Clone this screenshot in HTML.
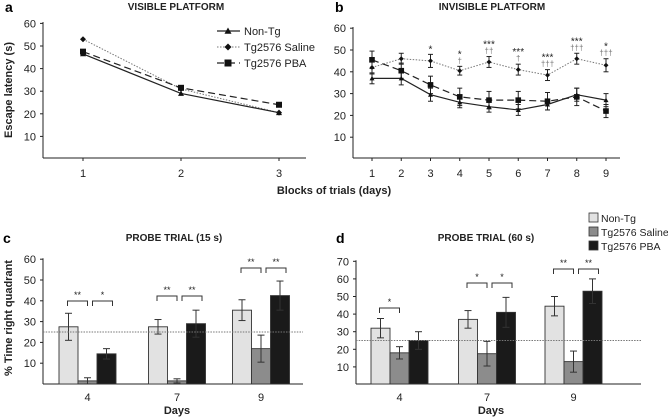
<!DOCTYPE html>
<html><head><meta charset="utf-8"><style>
html,body{margin:0;padding:0;background:#fff;width:668px;height:418px;overflow:hidden}
svg{display:block;font-family:"Liberation Sans",Arial,sans-serif}
</style></head><body>
<svg id="s" width="668" height="418" viewBox="0 0 668 418"></svg>
<script>
// ---- Panel a data ----
const aDays = [1, 2, 3];
const aNonTg = [46.5, 29, 20.5];
const aSaline = [53, 31, 20.5];
const aPBA = [47.5, 31.5, 24];
// ---- Panel b data ----
const bDays = [1, 2, 3, 4, 5, 6, 7, 8, 9];
const bNonTg = [37, 37, 29.5, 26, 24, 22.5, 25, 29.5, 27];
const bNonTgErr = [2.5, 3, 3, 2.5, 2.5, 2.5, 2.5, 3, 3];
const bSaline = [42, 46, 45, 40.5, 44.5, 41, 38.5, 46, 43];
const bSalineErr = [3, 2.5, 3, 2, 2.5, 2.5, 2.5, 2.5, 3];
const bPBA = [45.5, 40.5, 34, 28.5, 27, 27, 26.5, 28.5, 22];
const bPBAErr = [4, 3.5, 4, 4, 4, 4, 4, 4, 3];
const bStars = ["", "", "*", "*", "***", "***", "***", "***", "*"];
const bDaggers = ["", "", "", "†", "††", "†", "†††", "†††", "†††"];
// ---- Panel c data ----
const cDays = ["4", "7", "9"];
const cNonTg = [27.5, 27.5, 35.5];
const cNonTgErr = [6.5, 3.5, 5];
const cSaline = [1.5, 1.5, 17];
const cSalineErr = [1.5, 1, 6.5];
const cPBA = [14.5, 29, 42.5];
const cPBAErr = [2.5, 6.5, 7];
const cSig1 = ["**", "**", "**"];
const cSig2 = ["*", "**", "**"];
// ---- Panel d data ----
const dDays = ["4", "7", "9"];
const dNonTg = [32, 37, 44.5];
const dNonTgErr = [5.5, 5, 5.5];
const dSaline = [18, 17.5, 13];
const dSalineErr = [3.5, 7, 6];
const dPBA = [25, 41, 53];
const dPBAErr = [5, 8.5, 7];
const dSig1 = ["*", "*", "**"];
const dSig2 = ["", "*", "**"];
const chance = 25;

const S = document.getElementById('s');
const NS = 'http://www.w3.org/2000/svg';
function el(tag, at, name, parent) {
  const e = document.createElementNS(NS, tag);
  for (const k in at) e.setAttribute(k, at[k]);
  
  
  (parent || S).appendChild(e);
  return e;
}
function txt(x, y, s, name, o) {
  o = o || {};
  const t = el('text', {x: x, y: y, 'font-size': o.fs || 11, 'text-anchor': o.a || 'middle',
    'font-weight': o.b ? 'bold' : 'normal', fill: o.fill || '#222'}, name);
  if (o.rot) t.setAttribute('transform', 'rotate(-90 ' + x + ' ' + y + ')');
  t.textContent = s;
  return t;
}
function line(x1, y1, x2, y2, name, o) {
  o = o || {};
  const l = el('line', {x1: x1, y1: y1, x2: x2, y2: y2, stroke: o.c || '#222', 'stroke-width': o.w || 1}, name);
  if (o.d) l.setAttribute('stroke-dasharray', o.d);
  return l;
}
function marker(type, x, y, s, name) {
  if (type === 'tri') el('polygon', {points: `${x},${y - s} ${x - s},${y + s * 0.8} ${x + s},${y + s * 0.8}`, fill: '#111'}, name);
  else if (type === 'dia') el('polygon', {points: `${x},${y - s} ${x + s},${y} ${x},${y + s} ${x - s},${y}`, fill: '#111'}, name);
  else el('rect', {x: x - s, y: y - s, width: 2 * s, height: 2 * s, fill: '#111'}, name);
}

// ================= Panel a =================
const aX = d => 83 + (d - 1) * 98;
const aY = v => 159 - v * 2.26;
txt(5, 12, 'a', 'panel-a-letter', {b: 1, fs: 14, a: 'start', fill: '#000'});
txt(176, 10, 'VISIBLE PLATFORM', 'panel-a-title', {b: 1, fs: 10});
line(43, 22, 43, 158, 'panel-a-y-axis');
line(43, 158, 306, 158, 'panel-a-x-axis');
[10, 20, 30, 40, 50, 60].forEach(v => {
  line(40, aY(v), 43, aY(v), 'panel-a-y-tick');
  txt(36, aY(v) + 4, v, 'panel-a-y-tick-label', {a: 'end'});
});
aDays.forEach(d => {
  line(aX(d), 158, aX(d), 161, 'panel-a-x-tick');
  txt(aX(d), 177, d, 'panel-a-x-tick-label');
});
txt(12, 90, 'Escape latency (s)', 'panel-a-y-axis-title', {b: 1, rot: 1});
txt(334, 194, 'Blocks of trials (days)', 'x-axis-title-ab', {b: 1});
function series(days, vals, X, Y, style, mtype, ms, name) {
  const pts = days.map((d, i) => X(d) + ',' + Y(vals[i])).join(' ');
  const p = el('polyline', {points: pts, fill: 'none', stroke: style.c, 'stroke-width': style.w}, name + '-line');
  if (style.d) p.setAttribute('stroke-dasharray', style.d);
  days.forEach((d, i) => marker(mtype, X(d), Y(vals[i]), ms, name + '-point'));
}
const stNon = {c: '#222', w: 1.2};
const stSal = {c: '#777', w: 1, d: '1.5,1.5'};
const stPBA = {c: '#222', w: 1.2, d: '7,4'};
series(aDays, aSaline, aX, aY, stSal, 'dia', 3, 'a-saline');
series(aDays, aPBA, aX, aY, stPBA, 'sq', 3, 'a-pba');
series(aDays, aNonTg, aX, aY, stNon, 'tri', 3, 'a-nontg');
// legend a
[['Non-Tg', stNon, 'tri', 31], ['Tg2576 Saline', stSal, 'dia', 47], ['Tg2576 PBA', stPBA, 'sq', 63]].forEach(r => {
  line(217, r[3], 240, r[3], 'legend-a-line', {c: r[1].c, w: r[1].w, d: r[1].d});
  marker(r[2], 228, r[3], 3.5, 'legend-a-marker');
  txt(244, r[3] + 4, r[0], 'legend-a-label', {a: 'start', fs: 11});
});

// ================= Panel b =================
const bX = d => 372 + (d - 1) * 29.25;
const bY = v => 159 - v * 2.18;
txt(335, 12, 'b', 'panel-b-letter', {b: 1, fs: 14, a: 'start', fill: '#000'});
txt(492, 10, 'INVISIBLE PLATFORM', 'panel-b-title', {b: 1, fs: 10});
line(353, 27, 353, 158, 'panel-b-y-axis');
line(353, 158, 620, 158, 'panel-b-x-axis');
[10, 20, 30, 40, 50, 60].forEach(v => {
  line(350, bY(v), 353, bY(v), 'panel-b-y-tick');
  txt(346, bY(v) + 4, v, 'panel-b-y-tick-label', {a: 'end'});
});
bDays.forEach(d => {
  line(bX(d), 158, bX(d), 161, 'panel-b-x-tick');
  txt(bX(d), 177, d, 'panel-b-x-tick-label');
});
function errs(days, vals, e, X, Y, name) {
  days.forEach((d, i) => {
    const x = X(d), y1 = Y(vals[i] + e[i]), y2 = Y(vals[i] - e[i]);
    line(x, y1, x, y2, name, {w: 1});
    line(x - 2.5, y1, x + 2.5, y1, name + '-cap');
    line(x - 2.5, y2, x + 2.5, y2, name + '-cap');
  });
}
errs(bDays, bSaline, bSalineErr, bX, bY, 'b-saline-err');
errs(bDays, bPBA, bPBAErr, bX, bY, 'b-pba-err');
errs(bDays, bNonTg, bNonTgErr, bX, bY, 'b-nontg-err');
series(bDays, bSaline, bX, bY, stSal, 'dia', 2.5, 'b-saline');
series(bDays, bPBA, bX, bY, stPBA, 'sq', 2.8, 'b-pba');
series(bDays, bNonTg, bX, bY, stNon, 'tri', 2.5, 'b-nontg');
bDays.forEach((d, i) => {
  const top = bY(bSaline[i] + bSalineErr[i]);
  const hasD = bDaggers[i] !== '';
  if (hasD) txt(bX(d), top - 3, bDaggers[i], 'b-dagger', {fs: 8, fill: '#777'});
  if (bStars[i]) txt(bX(d), hasD ? top - 9 : top - 2, bStars[i], 'b-star', {fs: 10});
});

// ================= Bar panels =================
const fills = ['#e2e2e2', '#8c8c8c', '#1a1a1a'];
function barPanel(p, cats, series3, errs3, sig1, sig2, X0, X1, Yf, centers, bw, ymax, step, brY) {
  line(X0, Yf(ymax) - 1, X0, 384, p + '-y-axis');
  line(X0, 384, X1, 384, p + '-x-axis');
  for (let v = step; v <= ymax; v += step) {
    line(X0 - 3, Yf(v), X0, Yf(v), p + '-y-tick');
    txt(X0 - 7, Yf(v) + 4, v, p + '-y-tick-label', {a: 'end'});
  }
  cats.forEach((c, g) => {
    txt(centers[g], 401, c, p + '-x-tick-label');
    series3.forEach((sv, k) => {
      const x = centers[g] + (k - 1.5) * bw;
      const y = Yf(sv[g]);
      el('rect', {x: x, y: y, width: bw, height: 384 - y, fill: fills[k], stroke: '#333', 'stroke-width': 0.9}, p + '-bar');
      const cx = x + bw / 2, e = errs3[k][g];
      const y1 = Yf(sv[g] + e), y2 = Yf(sv[g] - e);
      line(cx, y1, cx, y2, p + '-error-bar', {c: '#333'});
      line(cx - 3.5, y1, cx + 3.5, y1, p + '-error-cap', {c: '#333'});
      line(cx - 3.5, y2, cx + 3.5, y2, p + '-error-cap', {c: '#333'});
    });
    [sig1[g], sig2[g]].forEach((s, j) => {
      if (!s) return;
      const x1 = centers[g] - bw + (j ? bw + 6 : 0) - 1, x2 = x1 + bw + 1;
      const y = brY[g];
      el('polyline', {points: `${x1},${y + 5} ${x1},${y} ${x2},${y} ${x2},${y + 5}`, fill: 'none', stroke: '#333', 'stroke-width': 1}, p + '-sig-bracket');
      txt((x1 + x2) / 2, y - 3, s, p + '-sig-star', {fs: 9});
    });
  });
  line(X0, Yf(chance), X1, Yf(chance), p + '-chance-line', {c: '#777', d: '1.5,1.2'});
}
// c
const cY = v => 384 - v * 2.08;
txt(3, 243, 'c', 'panel-c-letter', {b: 1, fs: 14, a: 'start', fill: '#000'});
txt(174, 241, 'PROBE TRIAL (15 s)', 'panel-c-title', {b: 1, fs: 10});
txt(12, 318, '% Time right quadrant', 'panel-c-y-axis-title', {b: 1, rot: 1});
txt(177, 414, 'Days', 'panel-c-x-axis-title', {b: 1});
barPanel('c', cDays, [cNonTg, cSaline, cPBA], [cNonTgErr, cSalineErr, cPBAErr], cSig1, cSig2,
  43, 303, cY, [87.5, 177, 261], 19, 60, 10, [301, 296, 268]);
// d
const dY = v => 384.5 - v * 1.76;
txt(336, 243, 'd', 'panel-d-letter', {b: 1, fs: 14, a: 'start', fill: '#000'});
txt(486, 241, 'PROBE TRIAL (60 s)', 'panel-d-title', {b: 1, fs: 10});
txt(491, 414, 'Days', 'panel-d-x-axis-title', {b: 1});
barPanel('d', dDays, [dNonTg, dSaline, dPBA], [dNonTgErr, dSalineErr, dPBAErr], dSig1, dSig2,
  356, 641, dY, [399.5, 487, 573.5], 19, 70, 10, [308, 283, 269]);
// legend cd
[['Non-Tg', fills[0]], ['Tg2576 Saline', fills[1]], ['Tg2576 PBA', fills[2]]].forEach((r, i) => {
  const y = 217 + i * 14;
  el('rect', {x: 589, y: y - 4, width: 9, height: 9, fill: r[1], stroke: '#333', 'stroke-width': 0.8}, 'legend-cd-swatch');
  txt(601, y + 5, r[0], 'legend-cd-label', {a: 'start', fs: 10.5});
});
</script>
</body></html>
